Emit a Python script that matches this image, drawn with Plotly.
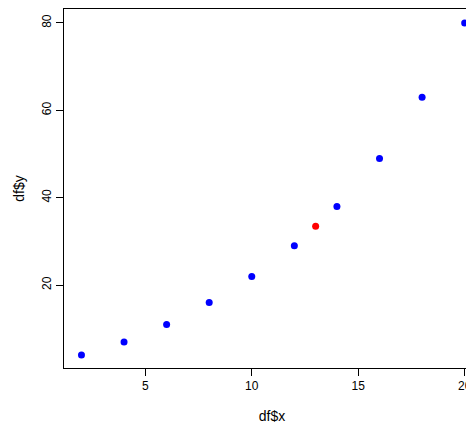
import plotly.graph_objects as go

x = [2, 4, 6, 8, 10, 12, 14, 16, 18, 20]
y = [4, 7, 11, 16, 22, 29, 38, 49, 63, 80]
x_new = [13]
y_new = [33.5]

fig = go.Figure()
fig.add_trace(go.Scatter(x=x, y=y, mode="markers",
                         marker=dict(color="blue", size=7)))
fig.add_trace(go.Scatter(x=x_new, y=y_new, mode="markers",
                         marker=dict(color="red", size=7)))

axis = dict(showline=True, mirror=True, linecolor="black", linewidth=1,
            ticks="outside", ticklen=7, tickcolor="black", showgrid=False,
            zeroline=False, tickfont=dict(size=12, color="black"))
fig.update_xaxes(range=[1.18, 20.72], tickvals=[5, 10, 15, 20],
                 title=dict(text="df$x", standoff=18), **axis)
fig.update_yaxes(range=[1.03, 83.2], tickvals=[20, 40, 60, 80], tickangle=-90,
                 title=dict(text="df$y", standoff=12), **axis)
fig.update_layout(width=474, height=437, showlegend=False,
                  margin=dict(l=56, r=2, t=1, b=77),
                  plot_bgcolor="white", paper_bgcolor="white",
                  font=dict(family="Liberation Sans, Arial", size=12, color="black"))
fig.write_html("out.html")
